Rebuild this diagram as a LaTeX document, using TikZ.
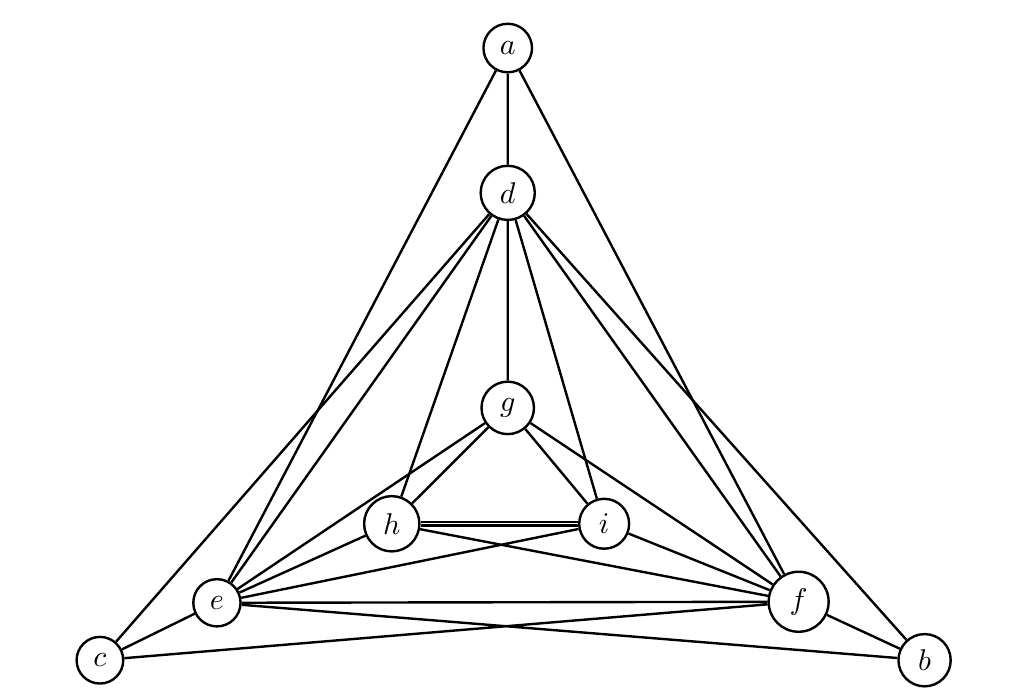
\documentclass[tikz,border=0pt]{standalone}
\usepackage{amsmath}
\usepackage{amssymb}
\usepackage{tikz}

\begin{document}
\begin{tikzpicture}[
          vertex/.style={circle,draw,thick},
          edge/.style={thick}
        ]
        \useasboundingbox (0,0) rectangle (12,8.2);
        % outer vertices
        \node[vertex] (a) at (5.95,7.637) {$a$};
        \node[vertex] (c) at (1.171,0.463) {$c$};
        \node[vertex] (b) at (10.835,0.463) {$b$};
        % middle vertices
        \node[vertex] (d) at (5.95,5.94) {$d$};
        \node[vertex] (e) at (2.542,1.136) {$e$};
        \node[vertex] (f) at (9.359,1.148) {$f$};
        % inner vertices
        \node[vertex] (g) at (5.95,3.42) {$g$};
        \node[vertex] (h) at (4.591,2.062) {$h$};
        \node[vertex] (i) at (7.080,2.062) {$i$};
        \draw[edge] (a) -- (d) (a) -- (e) (a) -- (f);
        \draw[edge] (d) -- (g) (d) -- (h) (d) -- (i) (d) -- (e) (d) -- (f)
                    (d) -- (c) (d) -- (b);
        \draw[edge] (g) -- (h) (g) -- (i) (g) -- (e) (g) -- (f);
        \draw[edge,double,double distance=0.4pt] (h) -- (i);
        \draw[edge] (h) -- (e) (h) -- (f) (i) -- (e) (i) -- (f);
        \draw[edge] (e) -- (f) (e) -- (c) (e) -- (b) (f) -- (c) (f) -- (b);
        \end{tikzpicture}
\end{document}
